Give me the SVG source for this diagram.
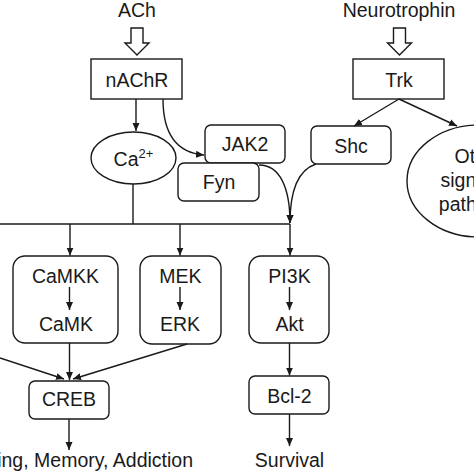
<svg xmlns="http://www.w3.org/2000/svg" width="474" height="474" viewBox="0 0 474 474">
<style>
.bx{fill:#fff;stroke:#1a1a1a;stroke-width:1.4}
.ln{fill:none;stroke:#1a1a1a;stroke-width:1.4}
.ar{fill:none;stroke:#1a1a1a;stroke-width:1.4;marker-end:url(#ah)}
.t{font-family:"Liberation Sans",Arial,sans-serif;font-size:19.5px;fill:#1a1a1a;text-anchor:middle}
.sup{font-size:13px}
</style>
<defs>
<marker id="ah" markerUnits="userSpaceOnUse" markerWidth="9" markerHeight="8" refX="8" refY="4" orient="auto">
<path d="M0,0.5 L8,4 L0,7.5 z" fill="#1a1a1a"/>
</marker>
</defs>
<rect width="474" height="474" fill="#fff"/>
<g id="ach"><text class="t" x="137" y="17">ACh</text></g>
<g id="neurotrophin"><text class="t" x="399" y="17">Neurotrophin</text></g>
<g id="nachr"><rect class="bx" x="91" y="59" width="91" height="40"/><text class="t" x="137" y="87">nAChR</text></g>
<g id="trk"><rect class="bx" x="353" y="59" width="91" height="40"/><text class="t" x="399" y="87">Trk</text></g>
<g id="ca"><ellipse class="bx" cx="133.5" cy="158" rx="42.5" ry="26"/><text class="t" x="133.5" y="166">Ca<tspan class="sup" dy="-8">2+</tspan></text></g>
<g id="jak2"><rect class="bx" x="205" y="125" width="80" height="38" rx="6"/><text class="t" x="245" y="151">JAK2</text></g>
<g id="fyn"><rect class="bx" x="178" y="163" width="81" height="38" rx="6"/><text class="t" x="219" y="188.5">Fyn</text></g>
<g id="shc"><rect class="bx" x="311" y="126" width="80" height="38" rx="6"/><text class="t" x="351" y="153">Shc</text></g>
<g id="other"><ellipse class="bx" cx="479" cy="181" rx="72" ry="56"/><text class="t" x="479" y="163">Other</text><text class="t" x="479" y="187">signaling</text><text class="t" x="480" y="211">pathways</text></g>
<g id="camk"><rect class="bx" x="13" y="256" width="105" height="87" rx="12"/><text class="t" x="65.5" y="283">CaMKK</text><text class="t" x="66" y="331">CaMK</text></g>
<g id="erk"><rect class="bx" x="140" y="256" width="81" height="88" rx="12"/><text class="t" x="180.5" y="283">MEK</text><text class="t" x="180" y="331">ERK</text></g>
<g id="akt"><rect class="bx" x="249" y="256" width="80" height="87" rx="12"/><text class="t" x="289.5" y="283">PI3K</text><text class="t" x="289.5" y="331">Akt</text></g>
<g id="creb"><rect class="bx" x="29" y="381" width="80" height="38" rx="6"/><text class="t" x="69" y="406">CREB</text></g>
<g id="bcl2"><rect class="bx" x="249" y="376" width="80" height="38" rx="6"/><text class="t" x="289.5" y="403">Bcl-2</text></g>
<g id="outcome1"><text class="t" x="193" y="467" style="text-anchor:end">Learning, Memory, Addiction</text></g>
<g id="outcome2"><text class="t" x="289.5" y="467">Survival</text></g>
<g id="connectors">
<polygon class="bx" points="131,28 143,28 143,43 149,43 137,55 125,43 131,43"/>
<polygon class="bx" points="393.5,28 405.5,28 405.5,43 411.5,43 399.5,55 387.5,43 393.5,43"/>
<line class="ar" x1="136" y1="99" x2="136" y2="131"/>
<path class="ar" d="M163,99 C163,138 180,153 204,155"/>
<line class="ar" x1="399" y1="99" x2="354" y2="126"/>
<line class="ar" x1="399" y1="99" x2="457" y2="126"/>
<line class="ln" x1="133" y1="184" x2="133" y2="224"/>
<line class="ln" x1="0" y1="224" x2="290" y2="224"/>
<path class="ar" d="M259,165 C280,165 290,188 290,223"/>
<path class="ar" d="M316,164 C298,170 290,192 290,223"/>
<line class="ar" x1="70" y1="224" x2="70" y2="255.5"/>
<line class="ar" x1="180" y1="224" x2="180" y2="255.5"/>
<line class="ar" x1="290" y1="224" x2="290" y2="255.5"/>
<line class="ar" x1="69.5" y1="287" x2="69.5" y2="310"/>
<line class="ar" x1="180" y1="287" x2="180" y2="310"/>
<line class="ar" x1="289.5" y1="287" x2="289.5" y2="310"/>
<line class="ar" x1="69.5" y1="343" x2="69.5" y2="380"/>
<line class="ar" x1="187" y1="344" x2="73" y2="379"/>
<line class="ar" x1="0" y1="358" x2="64" y2="379"/>
<line class="ar" x1="289.5" y1="343" x2="289.5" y2="375.5"/>
<line class="ar" x1="69" y1="419" x2="69" y2="450"/>
<line class="ar" x1="289.5" y1="414" x2="289.5" y2="446"/>
</g>
</svg>
